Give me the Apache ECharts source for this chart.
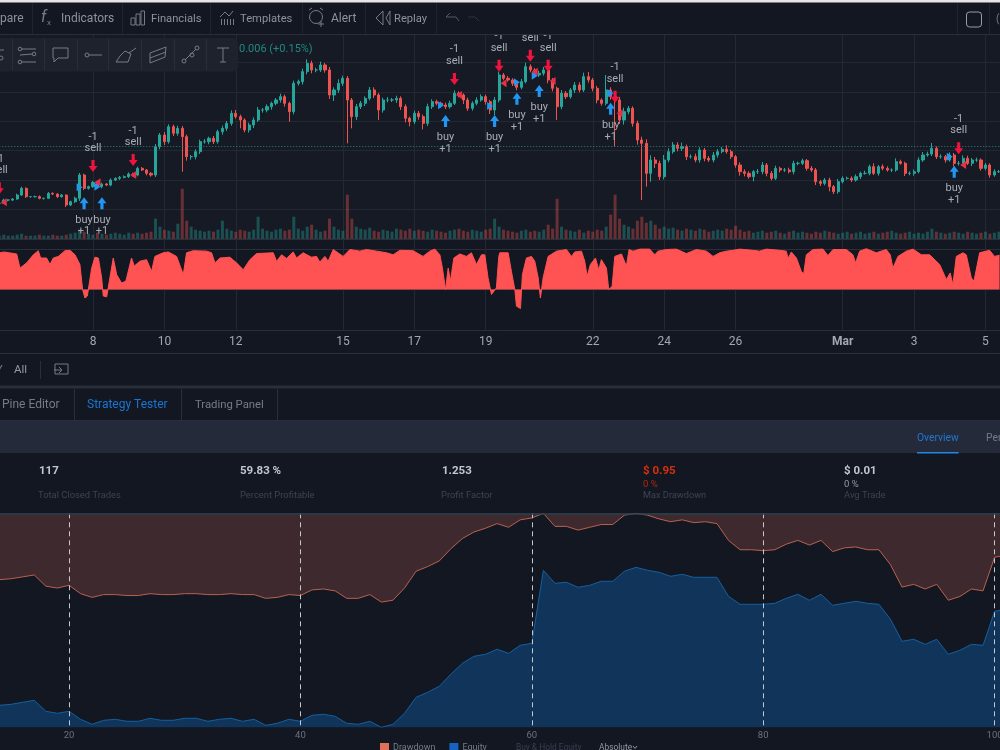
<!DOCTYPE html>
<html><head><meta charset="utf-8">
<style>html,body{margin:0;padding:0;background:#131722;overflow:hidden}#c{width:1000px;height:750px}</style>
<script src="https://cdn.jsdelivr.net/npm/echarts@6/dist/echarts.min.js"></script>
</head><body><div id="c"></div>
<script>
// ---- price panel, 3-hour bars, price in ticks ----
const closes=[194,204,204,207,219,239,214,214,214,209,209,224,222,214,219,189,199,209,279,239,244,257,244,252,249,264,269,272,274,282,
279,299,294,284,279,364,399,379,424,404,419,394,334,334,349,379,379,389,379,409,419,434,464,454,444,414,429,444,474,474,
484,494,504,514,494,469,554,559,589,614,594,594,609,594,519,534,554,569,504,454,484,494,509,534,519,474,504,504,504,509,
484,449,439,464,454,434,484,499,494,489,484,494,524,519,504,479,494,504,514,499,474,504,579,569,564,554,542,559,604,594,
579,584,594,564,539,484,524,514,534,549,534,574,564,539,504,494,534,514,504,444,469,479,434,384,374,284,324,314,274,324,
349,369,359,364,334,334,324,354,329,324,339,349,356,349,334,309,289,284,274,289,289,309,284,269,299,294,294,289,314,314,
322,299,294,259,254,264,244,229,259,269,269,264,274,284,284,304,284,304,299,294,294,319,314,284,284,289,324,339,342,359,
334,334,324,339,314,314,329,314,324,324,299,309,279,289,289,284];
const upperWicks=[3,4,2,3,4,5,3,2,3,4,2,4,3,2,3,2,3,5,6,4,3,4,3,4,3,5,3,4,4,5,
4,5,4,3,4,8,6,9,7,6,8,7,6,5,7,6,8,5,7,6,8,7,9,10,6,5,7,8,9,6,
7,5,6,9,6,5,8,6,9,12,8,7,10,6,9,8,12,8,7,6,8,7,6,9,8,6,7,9,6,8,
6,7,5,8,7,6,9,7,6,5,7,8,9,6,5,7,6,8,7,6,5,9,10,6,7,5,6,8,12,7,
6,8,9,8,6,5,10,7,6,9,8,12,14,6,7,5,45,8,6,9,12,7,6,8,10,12,14,9,8,15,
10,9,8,12,6,7,9,8,6,7,9,8,7,12,6,5,8,7,6,5,8,9,6,7,8,5,6,7,8,5,
6,5,7,6,5,6,7,5,8,6,5,6,7,5,8,6,10,5,7,6,5,10,6,5,6,7,8,9,7,16,
6,7,5,8,6,7,9,8,6,7,5,6,5,7,5,4];
const lowerWicks=[3,2,4,3,2,3,4,3,2,3,4,2,3,4,3,6,3,4,8,5,4,3,4,5,3,4,3,5,3,4,
5,4,3,6,5,6,8,10,6,8,7,105,12,9,8,7,6,8,7,6,9,8,7,6,25,7,8,9,6,8,
7,9,6,8,10,30,8,7,9,8,10,7,6,8,12,18,9,8,130,35,10,7,8,6,9,30,8,7,6,9,
10,12,14,7,9,18,8,7,6,8,7,6,5,7,12,8,7,6,5,9,12,16,7,6,5,8,9,6,5,7,
8,6,7,10,9,40,8,7,6,9,7,6,8,9,10,7,6,9,140,12,14,8,10,14,170,40,25,14,10,8,
7,6,9,8,10,6,7,8,9,6,7,8,5,6,7,8,12,9,6,14,7,8,9,6,5,7,6,5,8,6,
5,7,6,10,8,6,14,7,6,5,4,6,5,7,4,6,5,7,6,5,6,5,4,8,6,7,5,6,5,6,
7,6,8,5,9,7,6,5,8,6,7,6,8,5,4,6];
const volumes=[3,4,3,3,4,5,3,3,3,4,3,3,4,3,3,4,5,6,9,7,5,4,6,5,4,5,6,5,4,6,
5,6,5,6,7,20,12,9,8,7,15,50,18,12,9,8,7,8,7,9,18,10,8,7,9,8,7,9,22,10,
8,7,9,10,8,9,22,10,8,12,14,9,7,8,20,12,9,8,44,20,12,10,9,11,8,7,9,8,7,10,
9,8,10,8,9,8,7,9,8,7,6,8,9,10,8,7,9,8,7,9,10,20,12,9,8,7,6,8,9,7,
8,7,9,14,10,40,12,9,8,7,9,6,8,7,9,8,12,24,44,20,14,12,10,18,22,16,18,14,10,12,
10,11,9,8,10,9,8,10,9,7,8,9,8,10,9,13,9,7,8,6,7,8,6,7,8,6,5,7,8,6,
7,6,5,7,6,8,7,6,5,6,7,5,6,7,5,6,7,5,6,7,8,6,5,6,7,5,6,5,7,10,
7,6,5,6,7,6,5,7,6,5,6,7,5,6,7,5];
const lastPrice=364;
const tickBars=[21,37,53,77,93,109,133,149,165,189,205,221];
const tickLabels=['8','10','12','15','17','19','22','24','26','Mar','3','5'];
// signals: bar index, price level
const sellBars=[0,21,30,102,112,119,123,138,215];
const sellLevels=[239,306,324,567,607,637,607,514,359];
const buyBars=[19,23,100,111,116,121,137,214];
const buyLevels=[194,194,441,441,508,531,478,289];
const entryBars=[18,22,99,110,116,120,137,213];
const entryLevels=[242,244,488,486,557,577,524,334];
const exitBars=[1,22,30,103,113,120,124,139,216];
const exitLevels=[197,257,279,519,554,589,561,464,309];
// ---- oscillator panel: hours since first bar, value ----
const oscHours=[0,3.4,6.5,11.7,13.9,18.4,22.9,26.2,27.8,31.8,34.1,36.3,39.7,44.1,47.5,50.9,54.2,56,57.6,59.2,62.1,64.3,66.6,68.8,69.9,72.2,74,76.6,78.9,82.2,85.1,88.9,90.7,94.5,99,102.4,104.6,110.2,113.6,119.2,123.7,125.9,130.4,139.4,142.7,145,148.3,155,159.5,164,168.5,173,184.2,186.4,189.8,193.1,197.6,199.8,204.3,209.9,213.3,215.5,218.9,221.1,224.5,231.2,235.7,242.4,246.9,253.6,260.3,264.8,269.3,278.2,284.9,289.4,292.8,296.2,297.9,300,301.8,303.3,305.6,309.6,314.1,317.4,320.8,324.2,326.4,328.6,330.9,332,334.2,335.8,
336.5,342.1,344.3,346.6,347.7,350.4,351.7,354.4,357.8,360,362.3,363.8,365.6,369,374.6,381.3,384.7,386.9,391.4,393.6,395.2,397.4,400.8,403,404.8,408.2,409.7,412,413.8,418.3,421.6,423.4,426.1,430.6,437.3,440.7,442.9,448.5,455.2,461.9,468.7,475.4,479.9,484.3,488.8,493.3,497.8,506.7,511.2,515.7,524.7,529.1,530.3,532.5,535.9,539.2,540.8,542.6,547.1,553.8,557.1,560.5,569.5,573.9,575.7,578.4,582.9,589.6,596.3,599,600.8,604.2,609.8,614.3,619.9,625.5,632.2,636.7,639.3,641.1,643.4,647.9,650.1,653.5,655.3,659.1,665.8,669.1,672.5];
const oscValues=[91,93,91,88,53,66,86,96,78,78,62,78,82,96,97,86,62,0,-21,-16,53,80,78,29,-16,-18,21,78,37,16,21,78,58,70,74,45,82,91,93,82,37,91,96,95,91,66,78,80,66,49,74,89,91,70,86,77,93,78,91,80,82,68,82,70,99,82,99,95,99,95,91,86,97,96,82,95,100,86,53,0,53,21,78,88,82,91,62,86,86,29,-12,-16,4,82,
91,91,45,0,-41,-47,37,78,82,70,29,-21,29,82,95,99,82,93,95,70,33,62,78,49,74,53,0,8,82,88,58,99,95,100,100,86,95,99,100,89,99,95,82,91,95,97,100,97,95,100,97,95,77,93,78,45,39,86,99,100,84,99,99,86,66,95,101,91,99,86,53,82,95,100,86,86,62,25,41,12,82,91,86,29,21,91,97,82,85];
// ---- strategy tester: trade number, drawdown $, equity $ ----
const tradeNumbers=[14,15,16,17,18,19,20,21,22,23,24,25,26,27,28,29,30,31,32,33,34,35,36,37,38,39,40,41,42,43,44,45,46,47,48,49,50,51,52,53,54,55,56,57,58,59,60,61,62,63,64,65,66,67,68,69,70,71,72,73,74,75,76,77,78,79,80,81,82,83,84,85,86,87,88,89,90,91,92,93,94,95,96,97,98,99,100,101];
const drawdown=[.71,.70,.68,.66,.78,.80,.77,.86,.90,.87,.87,.88,.88,.86,.87,.87,.86,.86,.87,.87,.86,.87,.87,.91,.90,.87,.88,.82,.81,.83,.91,.91,.87,.95,.93,.80,.62,.57,.51,.38,.27,.20,.16,.11,.15,.07,.05,0,.14,.14,.18,.15,.12,.12,.02,0,.02,.06,.09,.07,.10,.09,.11,.29,.39,.39,.40,.39,.33,.29,.34,.29,.41,.37,.36,.39,.39,.55,.79,.76,.81,.76,.93,.89,.81,.83,.47,.45];
const equity=[.22,.23,.25,.27,.16,.14,.16,.08,.03,.07,.08,.06,.06,.09,.07,.07,.09,.09,.06,.08,.09,.06,.08,.02,.04,.08,.06,.12,.13,.11,.04,.03,.06,0,.03,.14,.30,.35,.41,.53,.64,.71,.73,.78,.74,.82,.84,1.57,1.44,1.45,1.40,1.42,1.46,1.46,1.56,1.60,1.57,1.55,1.51,1.53,1.50,1.50,1.50,1.31,1.23,1.23,1.23,1.24,1.29,1.33,1.27,1.33,1.22,1.24,1.26,1.24,1.23,1.08,.86,.88,.83,.88,.73,.77,.83,.82,1.16,1.18];
const tradeTicks=[20,40,60,80,100];

const UP='#26a69a',DOWN='#ef5350',GRID='#242833',FONT='Roboto, "Noto Sans", sans-serif';
const bars=closes.map((_,i)=>String(i));
const candles=closes.map((c,i)=>{const o=i?closes[i-1]:c;return [o,c,Math.min(o,c)-lowerWicks[i],Math.max(o,c)+upperWicks[i]];});
const volData=volumes.map((v,i)=>({value:v,itemStyle:{color:(i&&closes[i]<closes[i-1])?'rgba(239,83,80,.38)':'rgba(38,166,154,.38)'}}));
const pair=(a,b)=>a.map((x,i)=>[x,b[i]]);

// ---- page furniture ----
const g=[];
const T=(x,y,text,fill,size,extra)=>g.push({type:'text',z:100,x,y,style:Object.assign({text,fill,font:`${size}px ${FONT}`,textVerticalAlign:'middle'},extra||{})});
const R=(x,y,w,h,fill,r)=>g.push({type:'rect',z:99,shape:{x,y,width:w,height:h,r:r||0},style:{fill}});
const B=(x,y,w,h,stroke,r)=>g.push({type:'rect',z:100,shape:{x,y,width:w,height:h,r:r||0},style:{fill:'none',stroke,lineWidth:1}});
const P=(pts,stroke)=>g.push({type:'polyline',z:100,shape:{points:pts},style:{stroke,fill:'none',lineWidth:1}});
const C=(x,y,r,stroke)=>g.push({type:'circle',z:100,shape:{cx:x,cy:y,r},style:{stroke,fill:'none',lineWidth:1}});
const ICON='#787b86',TXT='#8f929b',SEP='#2a2e39';
// top toolbar
R(0,0,1000,34.5,'#131722');R(0,0,1000,2.5,'#e6e6e6');R(0,34,1000,1,SEP);
[32,122,210,302,365,436,957,989].forEach(x=>R(x,3,1,31,'#20242f'));
T(0,19,'pare',TXT,12);T(61,19,'Indicators',TXT,12);T(151,19,'Financials',TXT,11.2);T(240,19,'Templates',TXT,11.2);T(331,19,'Alert',TXT,12);T(394,19,'Replay',TXT,11.2);
T(41,18,'f',ICON,16,{font:`italic 16px ${FONT}`});T(47,23,'x',ICON,8);
B(131,18,4,7,ICON);B(136,14,4,11,ICON);B(141,11,3.5,14,ICON);
P([[220,17],[225,12],[229,16],[233,11]],ICON);[221,224,227,230,233].forEach(x=>R(x,19,1,6,ICON));
C(316,17,6.5,ICON);P([[309,10],[312,8]],ICON);P([[320,8],[323,10]],ICON);P([[321,21],[321,27]],ICON);P([[318,24],[324,24]],ICON);
P([[383,11],[376,18],[383,25],[383,11]],ICON);P([[390,11],[386,18],[390,25],[390,11]],ICON);
P([[446,17],[450,13],[446,17],[456,17],[459,21]],'#565a66');P([[479,21],[475,17],[468,17]],'#2f333e');
B(966.5,12,15,15,'#9a9da6',3);T(996,19,'(',ICON,10);
// floating drawing toolbar
R(-8,38,246,33.5,'#1e222d',5);
[12,44,77,108,141,174,206].forEach(x=>R(x,39,1,31,'#2a2e39'));
P([[0,50],[4,50]],ICON);C(1,58,2,ICON);
C(20,49,1.8,ICON);P([[22,49],[36,49]],ICON);C(20,62,1.8,ICON);P([[22,62],[36,62]],ICON);C(34,54,1.8,ICON);P([[20,55],[32,54]],ICON);
P([[53,48],[68,48],[68,58],[58,58],[54,62],[54,58],[53,58],[53,48]],ICON);
C(87,55,2,ICON);P([[89,55],[102,55]],ICON);
P([[116,62],[128,62],[131,54],[125,51],[120,56],[116,62]],ICON);P([[129,53],[136,48]],ICON);
P([[150,53],[166,47],[165,57],[150,63],[150,53]],ICON);P([[150,58],[166,52]],ICON);
C(184,61,2,ICON);C(192,55,2,ICON);C(197,48,2,ICON);P([[185,60],[196,49]],ICON);
P([[217,48],[229,48]],ICON);P([[223,48],[223,62]],ICON);P([[220,62],[226,62]],ICON);
T(239,49.5,'0.006 (+0.15%)','#1f8a82',11);
// range bar and tabs
R(0,353,1000,1,SEP);T(-4,370,'Y',ICON,11);T(14,370,'All','#9598a1',11.5);R(40,361,1,18,SEP);
B(55,364,13,10,ICON);P([[54,370],[62,370]],ICON);P([[59,367],[62,370],[59,373]],ICON);
R(0,385.5,1000,3,'#2a2e39');
R(0,420,1000,1,SEP);[74,181,277].forEach(x=>R(x,389,1,31,SEP));
T(2,405,'Pine Editor',ICON,12);T(87,405,'Strategy Tester','#1976d2',12);T(195,405,'Trading Panel',ICON,11.3);
// overview band
R(0,421,1000,32,'#252a3b');T(917,438,'Overview','#1e78d2',10.3);R(917,452,41.5,1.5,'#1e88e5');T(986,438,'Per',ICON,10.3);
// stats
const VAL='#c3c6cd',LAB='#3d4352';
[[39,'117','Total Closed Trades',38],[240,'59.83 %','Percent Profitable',240],[442,'1.253','Profit Factor',441]].forEach(s=>{T(s[0],471,s[1],VAL,11.5,{font:`bold 11.5px ${FONT}`});T(s[3],496,s[2],LAB,9.4);});
T(643,471,'$ 0.95','#d8300f',11.5,{font:`bold 11.5px ${FONT}`});T(643,485,'0 %','#b3280f',9.5);T(643,496,'Max Drawdown',LAB,9.2);
T(844,471,'$ 0.01',VAL,11.5,{font:`bold 11.5px ${FONT}`});T(844,485,'0 %','#9598a1',9.5);T(844,496,'Avg Trade',LAB,9.4);
// legend extras
T(516,747.5,'Buy & Hold Equity','#3a3f4e',8.4);T(599,747.5,'Absolute','#9598a1',8.4);P([[633,746],[635,748.5],[637,746]],'#9598a1');

const dayAxis=(grid,showLabels)=>({type:'category',gridIndex:grid,data:bars,boundaryGap:false,
  axisLine:{show:false},axisTick:{show:false},
  axisLabel:{show:showLabels,interval:i=>tickBars.includes(i),margin:6,color:'#a4a7b0',fontSize:12,fontFamily:FONT,
    formatter:v=>{const s=tickLabels[tickBars.indexOf(+v)];return s==='Mar'?'{b|Mar}':s;},rich:{b:{fontWeight:'bold',color:'#a4a7b0',fontSize:12,fontFamily:FONT}}},
  splitLine:{show:true,interval:i=>tickBars.includes(i),lineStyle:{color:GRID,width:1}}});

const chart=echarts.init(document.getElementById('c'),null,{renderer:'canvas'});
chart.setOption({
  animation:false,backgroundColor:'#131722',
  grid:[
    {left:-0.7,width:1004,top:33.3,height:205.4,show:true,backgroundColor:'#161a25',borderWidth:0,outerBoundsMode:'none'},
    {left:-0.7,width:1004,top:239,height:91,outerBoundsMode:'none'},
    {left:-0.42,width:1006.6,top:513.3,height:214,show:false,outerBoundsMode:'none'}
  ],
  legend:{left:380,top:743,padding:0,itemWidth:9,itemHeight:9,itemGap:14,icon:'rect',data:['Drawdown','Equity'],
    textStyle:{color:'#787b86',fontSize:9,fontFamily:FONT,padding:[0,0,0,-1]}},
  xAxis:[
    dayAxis(0,false),
    dayAxis(1,true),
    {type:'value',gridIndex:1,min:0,max:675,show:false,position:'top'},
    {type:'category',gridIndex:2,data:tradeNumbers.map(String),boundaryGap:false,z:5,
      axisLine:{show:true,lineStyle:{color:'#27404f',width:1.5}},axisTick:{show:false},
      axisLabel:{interval:i=>tradeTicks.includes(tradeNumbers[i]),margin:3,color:'#6d717c',fontSize:9.5,fontFamily:FONT},
      splitLine:{show:true,interval:i=>tradeTicks.includes(tradeNumbers[i]),lineStyle:{color:'#c4c7ce',width:1,type:[5,4]}}}
  ],
  yAxis:[
    {type:'value',gridIndex:0,min:88,max:704,interval:88,axisLabel:{show:false},axisLine:{show:false},axisTick:{show:false},splitLine:{lineStyle:{color:GRID,width:1}}},
    {type:'value',gridIndex:0,min:0,max:205.4,show:false,splitLine:{show:false}},
    {type:'value',gridIndex:1,min:-100,max:125,interval:100,axisLabel:{show:false},axisLine:{show:false},axisTick:{show:false},splitLine:{lineStyle:{color:'#2a2e39',width:1}}},
    {type:'value',gridIndex:2,min:0,max:2.29,inverse:true,show:false,splitLine:{show:false}},
    {type:'value',gridIndex:2,min:0,max:2.14,show:false,splitLine:{show:false}}
  ],
  series:[
    {type:'bar',name:'Volume',xAxisIndex:0,yAxisIndex:1,data:volData,barWidth:3,z:1,silent:true},
    {type:'candlestick',name:'Price',xAxisIndex:0,yAxisIndex:0,data:candles,barWidth:2.6,z:2,silent:true,
      itemStyle:{color:UP,color0:DOWN,borderColor:UP,borderColor0:DOWN,borderWidth:1},
      markLine:{silent:true,symbol:'none',label:{show:false},lineStyle:{color:'#1f8a82',type:[1,2],width:1},data:[{yAxis:lastPrice}]}},
    {type:'scatter',name:'Sell',xAxisIndex:0,yAxisIndex:0,data:pair(sellBars,sellLevels),z:6,silent:true,
      symbol:'path://M2.6 0h2.8v6H8L4 12L0 6h2.6z',symbolSize:[9,12],itemStyle:{color:'#f0133e',opacity:1},
      label:{show:true,position:'top',distance:6,formatter:'-1\nsell',color:'#a9acb5',fontSize:11,lineHeight:11.5,fontFamily:FONT}},
    {type:'scatter',name:'Buy',xAxisIndex:0,yAxisIndex:0,data:pair(buyBars,buyLevels),z:6,silent:true,
      symbol:'path://M4 0L8 6H5.4v6H2.6V6H0z',symbolSize:[9,12],itemStyle:{color:'#2196f3',opacity:1},
      label:{show:true,position:'bottom',distance:5,formatter:'buy\n+1',color:'#a9acb5',fontSize:11,lineHeight:11.5,fontFamily:FONT}},
    {type:'scatter',name:'Entry',xAxisIndex:0,yAxisIndex:0,data:pair(entryBars,entryLevels),z:5,silent:true,
      symbol:'triangle',symbolSize:[8,6],symbolRotate:-90,itemStyle:{color:'#2196f3',opacity:1}},
    {type:'scatter',name:'Exit',xAxisIndex:0,yAxisIndex:0,data:pair(exitBars,exitLevels),z:5,silent:true,
      symbol:'triangle',symbolSize:[8,6],symbolRotate:90,itemStyle:{color:'#e5304a',opacity:1}},
    {type:'line',name:'Oscillator',xAxisIndex:2,yAxisIndex:2,data:pair(oscHours,oscValues),showSymbol:false,smooth:false,z:2,silent:true,
      lineStyle:{color:'#ff5252',width:1},areaStyle:{color:'#ff5252',opacity:1}},
    {type:'line',name:'Drawdown',xAxisIndex:3,yAxisIndex:3,data:drawdown,showSymbol:false,z:2,silent:true,
      itemStyle:{color:'#e0705a'},lineStyle:{color:'#b9614f',width:1},areaStyle:{color:'#3e2a2e',opacity:1}},
    {type:'line',name:'Equity',xAxisIndex:3,yAxisIndex:4,data:equity,showSymbol:false,z:2,silent:true,
      itemStyle:{color:'#1565c0'},lineStyle:{color:'#14609f',width:1},areaStyle:{color:'#11355a',opacity:1}}
  ],
  graphic:{elements:g}
});
</script></body></html>
